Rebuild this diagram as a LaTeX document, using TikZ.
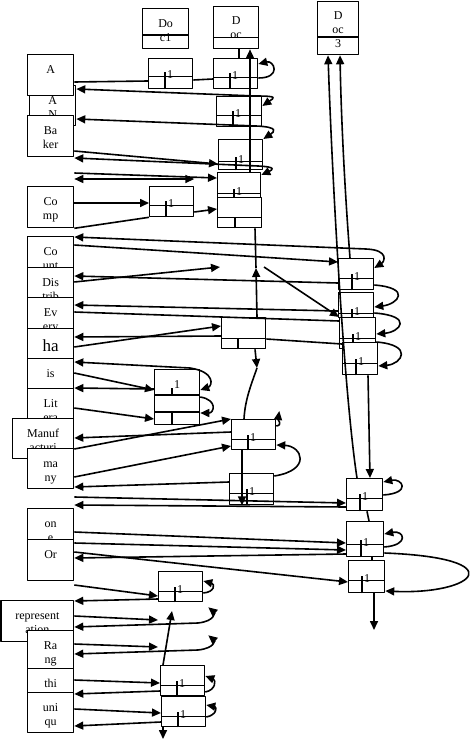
\documentclass[tikz,border=0pt]{standalone}
\usepackage{fontspec}
\setmainfont{Liberation Serif}
\usetikzlibrary{arrows.meta,positioning}
\begin{document}
\begin{tikzpicture}[x=1pt, y=-1pt, line join=round, >={Triangle[length=9pt,width=8pt]},
  box/.style={draw, fill=white, line width=1.3pt, anchor=north west, inner sep=0pt},
  txt/.style={align=center, inner sep=0pt, font=\fontsize{12}{14}\selectfont},
  num/.style={inner sep=0pt, font=\fontsize{12}{12}\selectfont},
  lk/.style={line width=1.6pt}]
\useasboundingbox (0,0) rectangle (474,739);

% documents
\node[box, minimum width=46pt, minimum height=40pt] (doc1) at (142,8) {};
\node[txt, below=9pt of doc1.north] (doc1-t) {\strut Do\\c1};
\draw[line width=1.3pt] (doc1.west |- 0,35) -- (doc1.east |- 0,35);
\node[box, minimum width=45pt, minimum height=42pt] (doc2) at (213,6) {};
\node[txt, below=8pt of doc2.north] (doc2-t) {\strut D\\oc};
\node[box, minimum width=45pt, minimum height=11pt] (doc2-c) at (213,37) {};
\node[box, minimum width=41pt, minimum height=53pt] (doc3) at (317,1) {};
\node[txt, below=8pt of doc3.north] (doc3-t) {\strut D\\oc\\3};
\draw[line width=1.3pt] (doc3.west |- 0,37) -- (doc3.east |- 0,37);

% terms
\foreach \n/\x/\y/\w/\h/\t in {tAN/29/85/46/40/{A\\N}, tA/27/54/46/41/A, tBa/27/115/46/41/{Ba\\ker},
  tCm/27/186/46/41/{Co\\mp}, tCt/27/236/46/45/{Co\\unt}, tDi/27/267/46/43/{Dis\\trib},
  tEv/27/297/46/43/{Ev\\ery}, tHa/27/328/46/30/{\fontsize{17}{20}\selectfont\strut ha},
  tIs/27/358/46/30/is, tLi/27/388/46/43/{Lit\\era}, tMf/12/418/61/40/{Manuf\\acturi},
  tMy/27/448/46/40/{ma\\ny}, tOn/27/508/46/45/{on\\e}, tOr/27/539/46/41/Or,
  tRe/0.5/600/72.5/41/{represent\\ation}, tRa/27/630/46/38/{Ra\\ng}, tTh/27/668/46/24/thi,
  tUn/27/692/46/40/{uni\\qu}}{
  \node[box, minimum width=\w*1pt, minimum height=\h*1pt] (\n) at (\x,\y) {};
  \node[txt, below=9pt of \n.north] (\n-t) {\strut\t};
}

% postings
\foreach \n/\x/\y/\w/\h/\d/\s/\k/\t in {p1/148/58/44/30/13/17/4/1, p2/213/58/44/30/12/17/4/1,
  pAN/216/96/45/30/12/17/4/1, pBa/218/139/44/30/9/18/4/1, pBa2/217/172/43/25/5/17/4/1,
  pEm/217/197/44/30/11/18/0/{}, pCo/149/186/44/30/12/17/4/1, pEv/221/317/44/31/11/17/0/{},
  pMa/231/419/44/30/11/17/4/1, pMy/229/473/44/31/12/18/4/1, pRe/158/571/44/30/11/17/4/1,
  pTh/160/665/44/30/11/17/4/1, pUn/161/696/44/30/11/17/4/1,
  q1/338/258/35/31/12/14/4/1, q2/338/292/35/25/5/14/4/1, q3/339/317/36/31/11/14/4/1,
  q4/342/342/35/32/12/14/4/1, q5/346/478/36/32/13/14/4/1, q6/346/521/37/35/13/15/4/1,
  q7/348/560/36/32/13/14/4/1}{
  \node[box, minimum width=\w*1pt, minimum height=\h*1pt] (\n) at (\x,\y) {};
  \draw[line width=1.3pt] ([yshift=\d*1pt]\n.south west) -- ([yshift=\d*1pt]\n.south east);
  \draw[line width=1.1pt] ([xshift=\s*1pt]\n.south west) -- ([xshift=\s*1pt, yshift={(\d+\k)*1pt}]\n.south west);
  \node[num] (\n-n) at ([xshift={(\s+5)*1pt}, yshift={(\d+2)*1pt}]\n.south west) {\t};
}
\node[box, minimum width=45pt, minimum height=55pt] (pIs) at (154,369) {};
\draw[line width=1.3pt] (pIs.west |- 0,395) -- (pIs.east |- 0,395);
\draw[line width=1.3pt] (pIs.west |- 0,412) -- (pIs.east |- 0,412);
\draw[line width=1.1pt] (pIs.south -| 172,0) -- (172,412);
\draw[line width=1.1pt] (172,388) -- (172,395);
\node[num] (pIs-n) at (177,385) {1};

% top rows
\draw[lk] (tA.east |- 0,82) -- (p1.west |- 0,81);
\draw[lk] (p1.east |- 0,80) -- (p2.west |- 0,79);
\draw[lk] (p2.north -| 239,0) -- (doc2.south -| 239,0);
\draw[lk,->] (pBa2.north -| 250,0) -- (doc2.south -| 250,0);
\draw[lk,->] (p2.east |- 0,78) .. controls (282,78) and (274,60) .. (p2.east |- 0,64);
\draw[lk,<->] (tAN.east |- 0,89) -- (256,96) .. controls (279,96) and (274,98) .. (pAN.east |- 0,106);
\draw[lk,<->] (tAN.east |- 0,119) -- (256,126) .. controls (280,127) and (274,132) .. (pBa.east |- 0,139);
\draw[lk,->] (tBa.east |- 0,151) -- (pBa.west |- 0,164);
\draw[lk,<->] (tBa.east |- 0,158) -- (258,166) .. controls (278,167) and (272,170) .. (pBa2.east |- 0,175);
\draw[lk,->] (tBa.east |- 0,173) -- (pBa2.west |- 0,178);
\draw[lk,<->] (tBa.east |- 0,179) -- (pCo.east |- 0,179);
\draw[lk,->] (tCm.east |- 0,203) -- (pCo.west |- 0,203);
\draw[lk] (tCm.south east) -- (pCo.south west);
\draw[lk,->] (pCo.east |- 0,212) -- (pEm.west |- 0,209);

% middle rows
\coordinate (jn) at (256,268);
\draw[lk] (pEm.south -| 255,0) -- (jn);
\draw[lk,->] (pEv.north -| 257,0) -- (jn);
\coordinate (dg) at (264,267);
\draw[lk,->] (dg) -- (q3.north west);
\draw[lk,<->] (tCt.east |- 0,237) -- (366,249) .. controls (390,250) and (384,262) .. (q1.east |- 0,268);
\draw[lk,->] (tCt.east |- 0,245) -- (q1.west |- 0,262);
\coordinate (dst) at (220,267);
\draw[lk,->] (tDi.east |- 0,282) -- (dst);
\draw[lk,<-] (tDi.east |- 0,276) -- (q1.west |- 0,283);
\draw[lk,->] (q1.east |- 0,285) .. controls (412,288) and (398,304) .. (q2.east |- 0,307);
\draw[lk,<-] (tEv.east |- 0,305) -- (q2.west |- 0,311);
\draw[lk] (tEv.east |- 0,312) -- (q3.west |- 0,321);
\draw[lk,->] (q2.east |- 0,313) .. controls (414,316) and (400,332) .. (q3.east |- 0,334);
\draw[lk,<-] (tHa.east |- 0,337) -- (pEv.west |- 0,336);
\draw[lk,->] (tHa.east |- 0,347) -- (pEv.west |- 0,326);
\draw[lk] (pEv.east |- 0,339) -- (q4.west |- 0,344);
\draw[lk,->] (q3.east |- 0,342) .. controls (414,345) and (402,364) .. (q4.east |- 0,366);
\draw[lk,->] (q1.north -| 350,0) .. controls (344,180) and (341,110) .. (doc3.south -| 340,0);
\draw[lk,->] (q5.north -| 357,0) .. controls (345,400) and (333,200) .. (doc3.south -| 328,0);
\draw[lk,->] (q4.south -| 368,0) -- (q5.north -| 370,0);

% manufacturing / many
\coordinate (ev) at (257,368);
\draw[lk,->] (pEv.south -| 255,0) -- (ev);
\draw[lk] (ev) .. controls (251,385) and (245,400) .. (pMa.north -| 244,0);
\draw[lk,->] (pMa.east |- 0,426) .. controls (283,425) and (278,420) .. ([xshift=3pt,yshift=8pt]pMa.north east);
\draw[lk,->] (pMy.east |- 0,476) .. controls (312,470) and (302,446) .. (pMa.east |- 0,445);
\draw[lk,->] (pMa.south -| 242,0) -- (pMy.south -| 242,0);
\draw[lk,<-] (tMf.east |- 0,438) -- (pMa.west |- 0,432);
\draw[lk,->] (tMf.east |- 0,449) -- (pMa.north west);
\draw[lk,->] (tMy.east |- 0,477) -- (pMa.west |- 0,446);
\draw[lk,<-] (tMy.east |- 0,487) -- (pMy.west |- 0,482);
\draw[lk,->] (tMy.east |- 0,497) -- (q5.west |- 0,503);
\draw[lk,<-] (tMy.east |- 0,505) -- (q5.west |- 0,507);

% right column, lower part
\draw[lk,->] (q5.east |- 0,495) .. controls (412,493) and (402,478) .. (q5.east |- 0,482);
\draw[lk] (q5.south -| 367,0) -- (q6.north -| 369,0);
\draw[lk,->] (q6.east |- 0,547) .. controls (410,545) and (404,530) .. (q6.east |- 0,534);
\draw[lk] (q6.south -| 372,0) -- (q7.north -| 372,0);
\draw[lk,->] (q6.east |- 0,553) .. controls (515,558) and (475,595) .. (q7.east |- 0,591);
\coordinate (out7) at (374,630);
\draw[lk,->] (q7.south -| 374,0) -- (out7);
\draw[lk,->] (tOn.east |- 0,532) -- (q6.west |- 0,543);
\draw[lk,->] (tOn.east |- 0,543) -- (q6.west |- 0,550);
\draw[lk,<-] (tOr.east |- 0,558) -- (q6.west |- 0,554);
\draw[lk,->] (tOr.east |- 0,552) -- (q7.west |- 0,582);

% is / literature
\draw[lk,<->] (tIs.east |- 0,362) -- (190,368) .. controls (216,372) and (212,386) .. (pIs.east |- 0,390);
\draw[lk,->] (tIs.east |- 0,373) -- (pIs.west |- 0,390);
\draw[lk,<-] (tIs.east |- 0,388) -- (pIs.west |- 0,389);
\draw[lk,->] (pIs.east |- 0,397) .. controls (218,400) and (214,413) .. (pIs.east |- 0,413);
\draw[lk,->] (tLi.east |- 0,408) -- (pIs.west |- 0,419);

% representation and below
\draw[lk,->] (tOr.east |- 0,585) -- (pRe.west |- 0,596);
\draw[lk,<-] (tRe.east |- 0,601) -- (pRe.west |- 0,599);
\draw[lk,->] (pRe.east |- 0,593) .. controls (215,592) and (215,584) .. (pRe.east |- 0,581);
\draw[lk,->] (tRe.east |- 0,616) -- (pRe.west |- 0,620);
\draw[lk,<->] (tRe.east |- 0,627) -- (198,623) .. controls (216,621) and (214,612) .. ([xshift=5pt,yshift=-5pt]pRe.south east);
\draw[lk,->] (tRa.east |- 0,644) -- (pRe.west |- 0,647);
\draw[lk,<->] (tRa.east |- 0,654) -- (198,650) .. controls (216,648) and (214,640) .. ([xshift=5pt,yshift=-33pt]pRe.south east);
\coordinate (up) at (172,611);
\draw[lk,->] (pTh.north -| 163,0) -- (up);
\draw[lk,->] (tTh.east |- 0,680) -- (pTh.west |- 0,683);
\draw[lk,<-] (tTh.east |- 0,694) -- (pTh.west |- 0,691);
\draw[lk,->] (pTh.east |- 0,692) .. controls (216,690) and (216,680) .. (pTh.east |- 0,676);
\draw[lk,->] (tUn.east |- 0,709) -- (pUn.west |- 0,713);
\draw[lk,<-] (tUn.east |- 0,726) -- (pUn.west |- 0,722);
\draw[lk,->] (pUn.east |- 0,717) .. controls (217,715) and (217,707) .. (pUn.east |- 0,705);
\coordinate (down) at (163,739);
\draw[lk,->] (pUn.south -| 163,0) -- (down);
\end{tikzpicture}
\end{document}
